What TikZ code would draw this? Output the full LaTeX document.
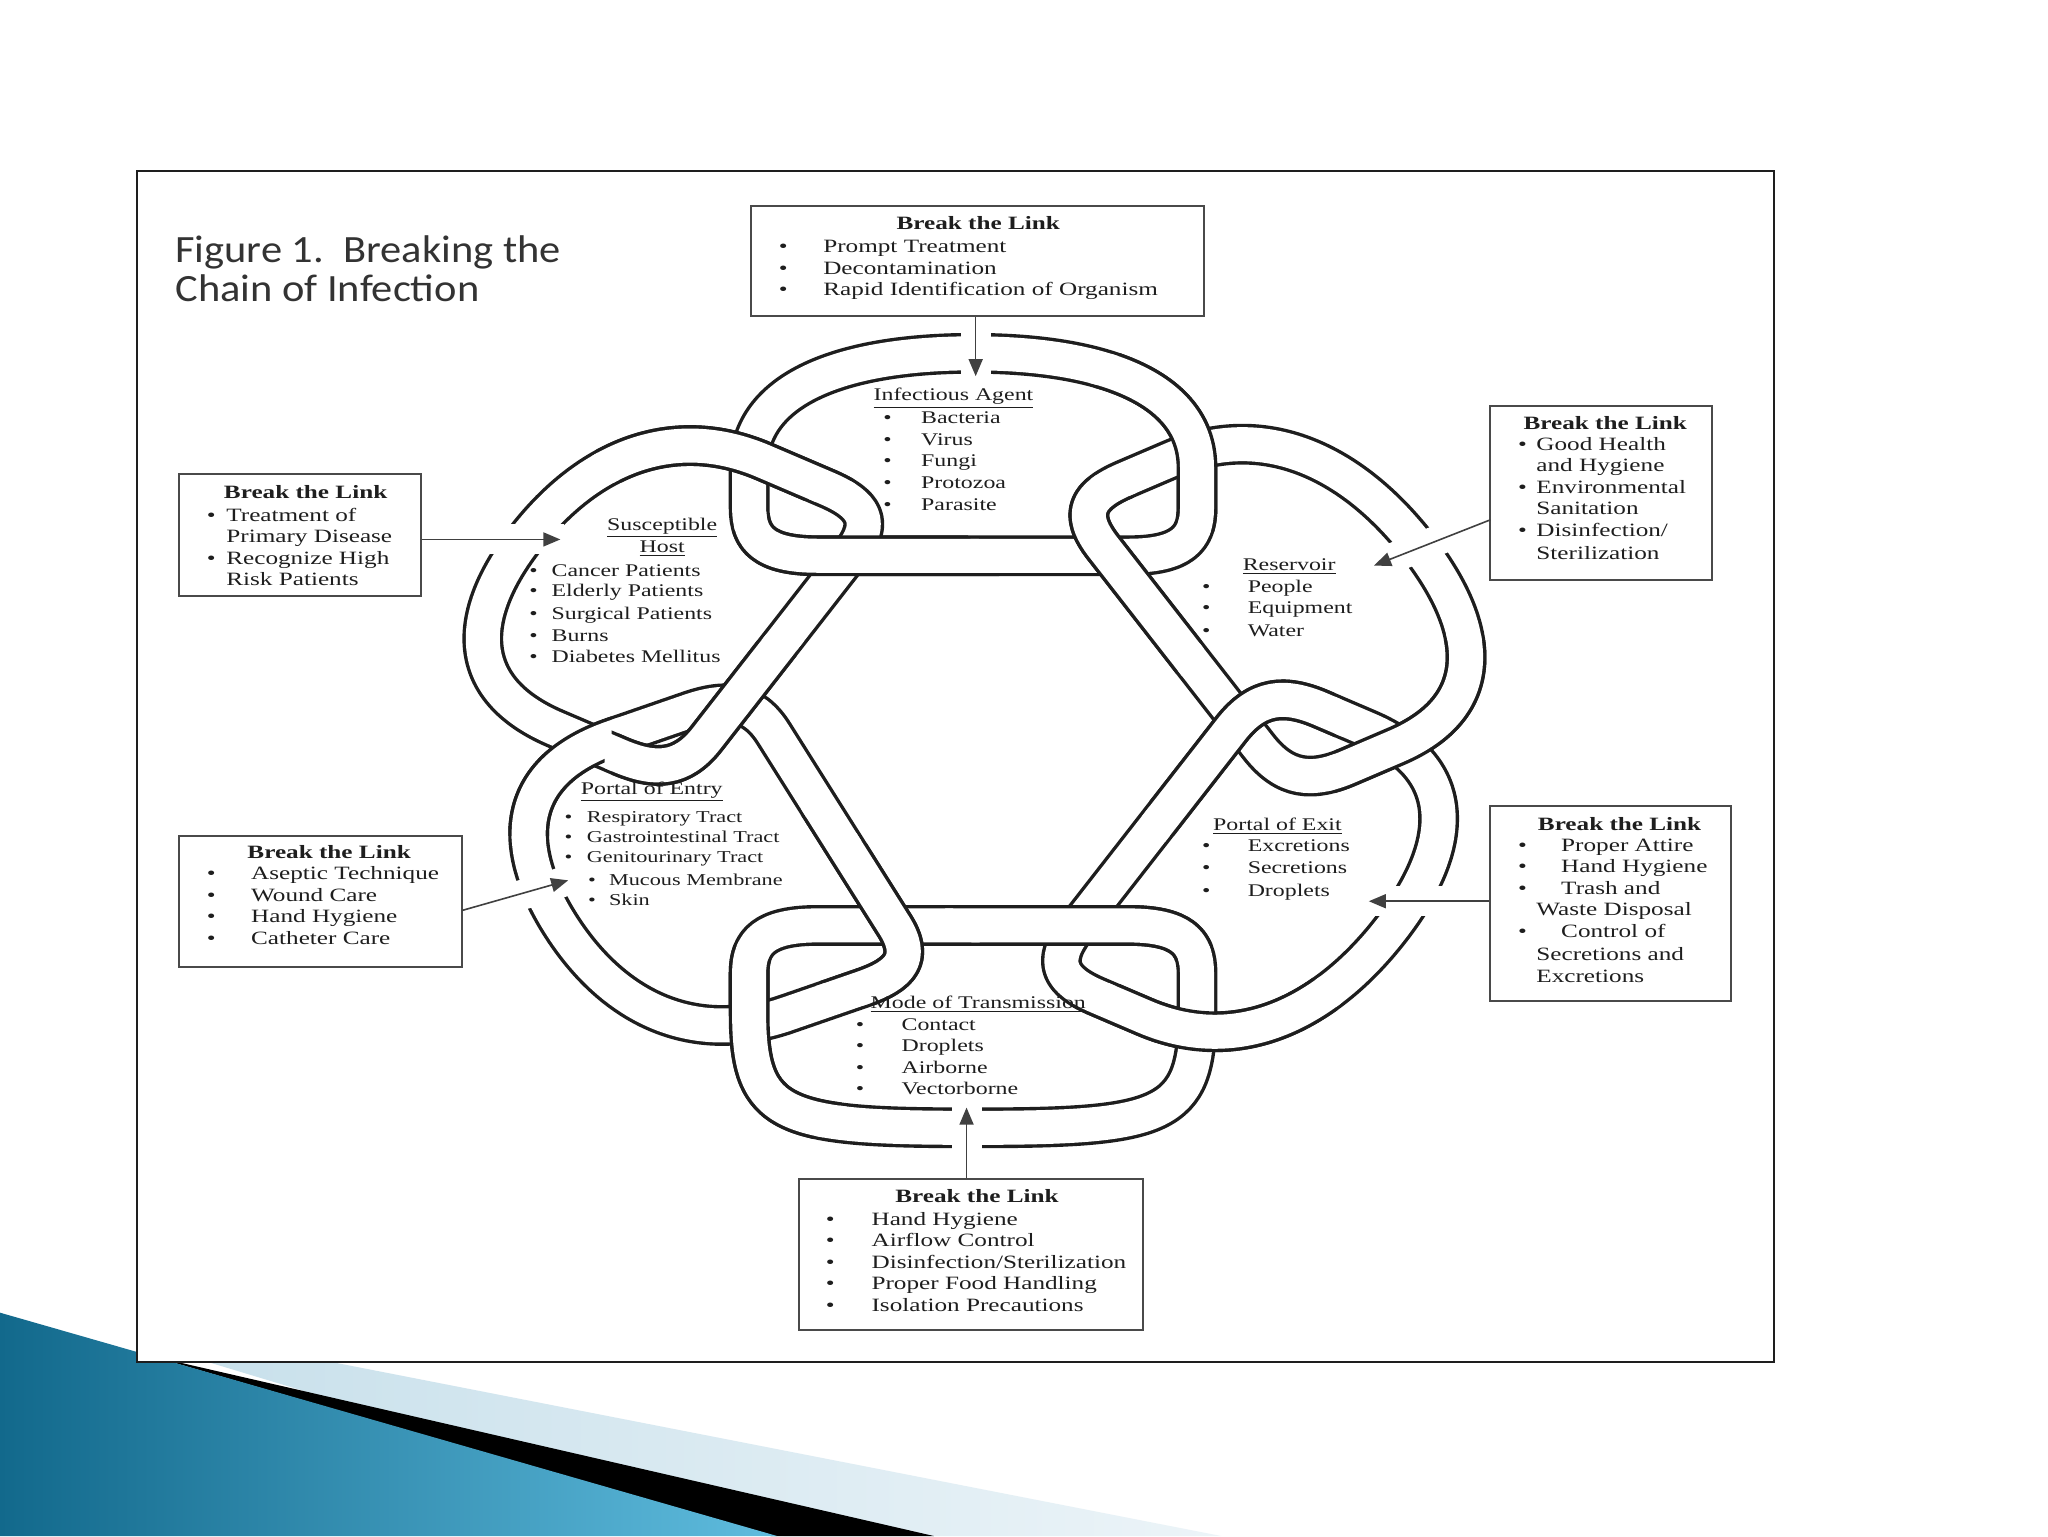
\documentclass[tikz,border=0pt]{standalone}
\usepackage{fontspec}
\setmainfont{Liberation Serif}
\newfontfamily\tnr[FakeStretch=1.34]{Liberation Serif}
\newfontfamily\ttlfont[FakeStretch=1.1]{Carlito}
\usetikzlibrary{arrows.meta}
\definecolor{ink}{HTML}{1E1E1E}
\definecolor{boxline}{HTML}{4A4A4A}
\definecolor{swdark}{RGB}{18,105,140}
\definecolor{swlight}{RGB}{95,188,222}
\definecolor{palea}{RGB}{200,224,235}
\definecolor{paleb}{RGB}{236,244,248}
% link outline: flat side at y=\fy (toward the ring centre), arch at y=-294.5
\def\Lk{(0,\fy) -- (88,\fy) .. controls (118,\fy) and (127,\fyb) .. (127,\fyc) -- (127,-207) .. controls (127,-\ay) and (\ax,-294.5) .. (0,-294.5) .. controls (-\ax,-294.5) and (-127,-\ay) .. (-127,-207) -- (-127,\fyc) .. controls (-127,\fyb) and (-118,\fy) .. (-88,\fy) -- cycle}
% link parameters: rotation, dx, dy, flat side, arch controls, length factor
\def\pIA{{0}{0}{0}{-139.5}{75}{267}{1}}
\def\pRe{{-60}{-4}{0}{-139.5}{75}{267}{1}}
\def\pPX{{-120}{-25}{0}{-139.5}{75}{267}{1}}
\def\pMT{{180}{0}{4}{-139.5}{108}{287}{1}}
\def\pPE{{115}{44}{18}{-123}{75}{267}{0.92}}
\def\pSH{{60}{2}{-6}{-129}{75}{267}{0.93}}
\newcommand\linkwith[2]{\tikzset{curband/.style={#1}}\expandafter\linkwithi#2}
\newcommand\linkwithi[7]{\begin{scope}[shift={(745+#2,565+#3)},xscale=1.35,rotate=#1,xscale=#7]\pgfmathsetmacro\fy{#4}\pgfmathsetmacro\fyb{#4-12.5}\pgfmathsetmacro\fyc{#4-36.5}\def\ax{#5}\def\ay{#6}\draw[curband] \Lk;\end{scope}}
\newcommand\chainlink[1]{\linkwith{bandout}{#1}\linkwith{bandin}{#1}}
% redraw a link on top inside a wedge at a ring vertex
\newcommand\overdraw[5]{%
\begin{scope}\clip[shift={(745,565)},xscale=1.35,rotate=#1] (-75,-205) -- (75,-205) -- (75,#3) -- (-75,#3) -- cycle;\linkwith{bandout}{#2}\end{scope}%
\begin{scope}\clip[shift={(745,565)},xscale=1.35,rotate=#1] (-79,#5) -- (79,#5) -- (79,#4) -- (-79,#4) -- cycle;\linkwith{bandin}{#2}\end{scope}}
\newcommand\overout[2]{\overdraw{#1}{#2}{-440}{-444}{-201}}
\newcommand\overin[2]{\overdraw{#1}{#2}{-100}{-96}{-209}}
\tikzset{
  bandout/.style={line width=20.4pt,draw=ink,line join=round},
  bandin/.style={line width=17.0pt,draw=white,line join=round},
  boxfr/.style={draw=boxline,line width=1pt,inner sep=0,fill=none},
  bxt/.style={font=\tnr\fontsize{9.4}{10.8}\selectfont,text=ink,inner sep=0,anchor=base west},
  bxh/.style={font=\tnr\bfseries\fontsize{9.4}{10.8}\selectfont,text=ink,inner sep=0,anchor=base},
  lkt/.style={font=\tnr\fontsize{8.9}{10.8}\selectfont,text=ink,inner sep=0,anchor=base west},
  lkh/.style={font=\tnr\fontsize{8.9}{10.8}\selectfont,text=ink,inner sep=0,anchor=base},
  smt/.style={font=\tnr\fontsize{8.3}{9.5}\selectfont,text=ink,inner sep=0,anchor=base west},
  arr/.style={draw=ink!85,line width=0.8pt,-{Triangle[length=8.5pt,width=7pt]}},
  gap/.style={draw=white,line width=15pt}
}
\begin{document}
\begin{tikzpicture}[x=0.653061pt,y=-0.653061pt]
\useasboundingbox (0,0) rectangle (1568,1176);
\fill[white] (0,0) rectangle (1568,1176);
% swoosh
\shade[left color=palea,right color=paleb] (150,1040) -- (255,1043) -- (935,1176) -- (600,1176) -- cycle;
\fill[black] (115,1038) -- (715,1176) -- (590,1176) -- cycle;
\shade[left color=swdark,right color=swlight] (0,1005) -- (115,1038) -- (595,1176) -- (0,1176) -- cycle;
% frame
\draw[draw=ink,line width=1.1pt,fill=white] (105,131) rectangle (1358,1043);
% title
\node[font=\ttlfont\fontsize{19.3}{19.6}\selectfont,text=black!80,inner sep=0,anchor=base west] (title1) at (134,201) {Figure 1.\ \ Breaking the};
\node[font=\ttlfont\fontsize{19.3}{19.6}\selectfont,text=black!80,inner sep=0,anchor=base west] (title2) at (134,231) {Chain of Infection};
% chain links
\chainlink{\pIA}
\chainlink{\pRe}
\chainlink{\pPX}
\chainlink{\pMT}
\chainlink{\pPE}
\chainlink{\pSH}
% interlocking: previous link (clockwise) over at the outer crossing, next one at the inner crossing
\overout{-30}{\pIA}
\overin{-30}{\pRe}
\overout{-90}{\pRe}
\overin{-90}{\pPX}
\overout{-150}{\pPX}
\overin{-150}{\pMT}
\overout{150}{\pMT}
\overin{150}{\pPE}
\overout{90}{\pPE}
\overin{90}{\pSH}
\overout{30}{\pSH}
\overin{30}{\pIA}
% boxes
\node[boxfr,minimum width=347*0.653061pt,minimum height=84*0.653061pt] (boxT) at (748.5,200) {};
\node[boxfr,minimum width=185*0.653061pt,minimum height=93*0.653061pt] (boxL1) at (229.5,409.5) {};
\node[boxfr,minimum width=170*0.653061pt,minimum height=133*0.653061pt] (boxR1) at (1226,377.5) {};
\node[boxfr,minimum width=217*0.653061pt,minimum height=100*0.653061pt] (boxL2) at (245.5,690) {};
\node[boxfr,minimum width=184*0.653061pt,minimum height=149*0.653061pt] (boxR2) at (1233,691.5) {};
\node[boxfr,minimum width=263*0.653061pt,minimum height=115*0.653061pt] (boxB) at (743.5,960.5) {};
% arrow ends
\coordinate (tA1) at (747,288);
\coordinate (tA2) at (429,413);
\coordinate (sA3) at (1141,398); \coordinate (tA3) at (1052,433);
\coordinate (sA4) at (354,697); \coordinate (tA4) at (435,674);
\coordinate (tA5) at (1048,690);
\coordinate (tA6) at (740,848);
% gaps in the links where arrows pass
\draw[gap] (747,250) -- (747,291);
\draw[gap] (372,413) -- (432,413);
\draw[gap] (1115,408) -- (1049,434);
\draw[gap] (378,692) -- (438,673);
\draw[gap] (1110,690) -- (1045,690);
\draw[gap] (740,895) -- (740,845);
% arrows
\draw[arr] (boxT.south -| tA1) -- (tA1);
\draw[arr] (boxL1.east |- tA2) -- (tA2);
\draw[arr] (sA3) -- (tA3);
\draw[arr] (sA4) -- (tA4);
\draw[arr] (boxR2.west |- tA5) -- (tA5);
\draw[arr] (boxB.north -| tA6) -- (tA6);
% top box
\node[bxh] (hT) at (749,176) {Break the Link};
\node[bxt] (bT1) at (596,193) {\textbullet}; \node[bxt] (tT1) at (630,193) {Prompt Treatment};
\node[bxt] (bT2) at (596,210) {\textbullet}; \node[bxt] (tT2) at (630,210) {Decontamination};
\node[bxt] (bT3) at (596,226) {\textbullet}; \node[bxt] (tT3) at (630,226) {Rapid Identification of Organism};
% left box 1
\node[bxh] (hL1) at (234,382) {Break the Link};
\node[bxt] (bL11) at (158,399) {\textbullet}; \node[bxt] (tL11) at (173,399) {Treatment of};
\node[bxt] (tL12) at (173,415) {Primary Disease};
\node[bxt] (bL13) at (158,432) {\textbullet}; \node[bxt] (tL13) at (173,432) {Recognize High};
\node[bxt] (tL14) at (173,448) {Risk Patients};
% right box 1
\node[bxh] (hR1) at (1229,329) {Break the Link};
\node[bxt] (bR11) at (1162,345) {\textbullet}; \node[bxt] (tR11) at (1176,345) {Good Health};
\node[bxt] (tR12) at (1176,361) {and Hygiene};
\node[bxt] (bR13) at (1162,378) {\textbullet}; \node[bxt] (tR13) at (1176,378) {Environmental};
\node[bxt] (tR14) at (1176,394) {Sanitation};
\node[bxt] (bR15) at (1162,411) {\textbullet}; \node[bxt] (tR15) at (1176,411) {Disinfection/};
\node[bxt] (tR16) at (1176,428) {Sterilization};
% left box 2
\node[bxh] (hL2) at (252,657) {Break the Link};
\node[bxt] (bL21) at (158,673) {\textbullet}; \node[bxt] (tL21) at (192,673) {Aseptic Technique};
\node[bxt] (bL22) at (158,690) {\textbullet}; \node[bxt] (tL22) at (192,690) {Wound Care};
\node[bxt] (bL23) at (158,706) {\textbullet}; \node[bxt] (tL23) at (192,706) {Hand Hygiene};
\node[bxt] (bL24) at (158,723) {\textbullet}; \node[bxt] (tL24) at (192,723) {Catheter Care};
% right box 2
\node[bxh] (hR2) at (1240,636) {Break the Link};
\node[bxt] (bR21) at (1162,652) {\textbullet}; \node[bxt] (tR21) at (1195,652) {Proper Attire};
\node[bxt] (bR22) at (1162,668) {\textbullet}; \node[bxt] (tR22) at (1195,668) {Hand Hygiene};
\node[bxt] (bR23) at (1162,685) {\textbullet}; \node[bxt] (tR23) at (1195,685) {Trash and};
\node[bxt] (tR24) at (1176,701) {Waste Disposal};
\node[bxt] (bR25) at (1162,718) {\textbullet}; \node[bxt] (tR25) at (1195,718) {Control of};
\node[bxt] (tR26) at (1176,735) {Secretions and};
\node[bxt] (tR27) at (1176,752) {Excretions};
% bottom box
\node[bxh] (hB) at (748,921) {Break the Link};
\node[bxt] (bB1) at (632,938) {\textbullet}; \node[bxt] (tB1) at (667,938) {Hand Hygiene};
\node[bxt] (bB2) at (632,954) {\textbullet}; \node[bxt] (tB2) at (667,954) {Airflow Control};
\node[bxt] (bB3) at (632,971) {\textbullet}; \node[bxt] (tB3) at (667,971) {Disinfection/Sterilization};
\node[bxt] (bB4) at (632,987) {\textbullet}; \node[bxt] (tB4) at (667,987) {Proper Food Handling};
\node[bxt] (bB5) at (632,1004) {\textbullet}; \node[bxt] (tB5) at (667,1004) {Isolation Precautions};
% infectious agent
\node[lkh] (hIA) at (730,307) {\underline{Infectious Agent}};
\node[lkt] (bIA1) at (676,324) {\textbullet}; \node[lkt] (tIA1) at (705,324) {Bacteria};
\node[lkt] (bIA2) at (676,341) {\textbullet}; \node[lkt] (tIA2) at (705,341) {Virus};
\node[lkt] (bIA3) at (676,357) {\textbullet}; \node[lkt] (tIA3) at (705,357) {Fungi};
\node[lkt] (bIA4) at (676,374) {\textbullet}; \node[lkt] (tIA4) at (705,374) {Protozoa};
\node[lkt] (bIA5) at (676,391) {\textbullet}; \node[lkt] (tIA5) at (705,391) {Parasite};
% susceptible host
\node[lkh] (hSH1) at (507,406) {\underline{Susceptible}};
\node[lkh] (hSH2) at (507,423) {\underline{Host}};
\node[lkt] (bSH1) at (405,441) {\textbullet}; \node[lkt] (tSH1) at (422,441) {Cancer Patients};
\node[lkt] (bSH2) at (405,457) {\textbullet}; \node[lkt] (tSH2) at (422,457) {Elderly Patients};
\node[lkt] (bSH3) at (405,474) {\textbullet}; \node[lkt] (tSH3) at (422,474) {Surgical Patients};
\node[lkt] (bSH4) at (405,491) {\textbullet}; \node[lkt] (tSH4) at (422,491) {Burns};
\node[lkt] (bSH5) at (405,507) {\textbullet}; \node[lkt] (tSH5) at (422,507) {Diabetes Mellitus};
% reservoir
\node[lkh] (hRe) at (987,437) {\underline{Reservoir}};
\node[lkt] (bRe1) at (920,454) {\textbullet}; \node[lkt] (tRe1) at (955,454) {People};
\node[lkt] (bRe2) at (920,470) {\textbullet}; \node[lkt] (tRe2) at (955,470) {Equipment};
\node[lkt] (bRe3) at (920,487) {\textbullet}; \node[lkt] (tRe3) at (955,487) {Water};
% portal of exit
\node[lkh] (hPX) at (978,636) {\underline{Portal of Exit}};
\node[lkt] (bPX1) at (920,652) {\textbullet}; \node[lkt] (tPX1) at (955,652) {Excretions};
\node[lkt] (bPX2) at (920,669) {\textbullet}; \node[lkt] (tPX2) at (955,669) {Secretions};
\node[lkt] (bPX3) at (920,686) {\textbullet}; \node[lkt] (tPX3) at (955,686) {Droplets};
% mode of transmission
\node[lkh] (hMT) at (749,772) {\underline{Mode of Transmission}};
\node[lkt] (bMT1) at (655,789) {\textbullet}; \node[lkt] (tMT1) at (690,789) {Contact};
\node[lkt] (bMT2) at (655,805) {\textbullet}; \node[lkt] (tMT2) at (690,805) {Droplets};
\node[lkt] (bMT3) at (655,822) {\textbullet}; \node[lkt] (tMT3) at (690,822) {Airborne};
\node[lkt] (bMT4) at (655,838) {\textbullet}; \node[lkt] (tMT4) at (690,838) {Vectorborne};
% portal of entry
\node[lkh] (hPE) at (499,608) {\underline{Portal of Entry}};
\node[smt] (bPE1) at (432,630) {\textbullet}; \node[smt] (tPE1) at (449,630) {Respiratory Tract};
\node[smt] (bPE2) at (432,645) {\textbullet}; \node[smt] (tPE2) at (449,645) {Gastrointestinal Tract};
\node[smt] (bPE3) at (432,660) {\textbullet}; \node[smt] (tPE3) at (449,660) {Genitourinary Tract};
\node[smt] (bPE4) at (450,678) {\textbullet}; \node[smt] (tPE4) at (466,678) {Mucous Membrane};
\node[smt] (bPE5) at (450,693) {\textbullet}; \node[smt] (tPE5) at (466,693) {Skin};
\end{tikzpicture}
\end{document}
